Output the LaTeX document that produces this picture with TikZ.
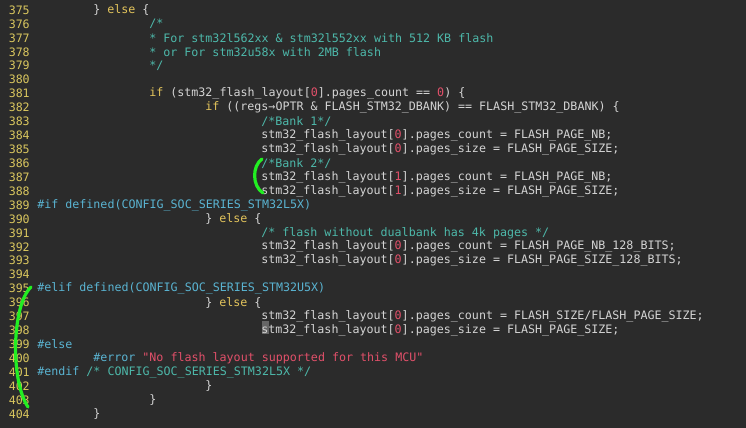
\documentclass[tikz,border=0pt]{standalone}
\usepackage{fontspec}
\setmonofont{DejaVu Sans Mono}[Scale=1]
\definecolor{bg}{HTML}{2B2B2B}
\definecolor{tx}{HTML}{D4D4D4}
\definecolor{kw}{HTML}{E3C45C}
\definecolor{cm}{HTML}{4DB8AA}
\definecolor{nu}{HTML}{E2506A}
\definecolor{pp}{HTML}{5AB4D2}
\definecolor{ln}{HTML}{D9C65E}
\definecolor{gr}{HTML}{22EE22}
\newcommand{\Kw}[1]{\textcolor{kw}{#1}}
\newcommand{\Cm}[1]{\textcolor{cm}{#1}}
\newcommand{\Nu}[1]{\textcolor{nu}{#1}}
\newcommand{\Pp}[1]{\textcolor{pp}{#1}}
\newcommand{\cl}[3]{%
  \node[num] (n#1) at (30,{10+(#1-375)*13.93}) {#1};
  \node[code] (c#1) at ({37+7.0*#2},{10+(#1-375)*13.93}) {#3};}
\begin{document}
\begin{tikzpicture}[x=0.75pt,y=-0.75pt,
  num/.style={anchor=east,inner sep=0,text=ln,font=\ttfamily\fontsize{8.7}{10}\selectfont},
  code/.style={anchor=west,inner sep=0,text=tx,font=\ttfamily\fontsize{8.75}{10}\selectfont}]
\useasboundingbox (0,0) rectangle (746,428);
\clip (0,0) rectangle (746,428);
\fill[bg] (0,0) rectangle (746,428);
\fill[gray!70!bg] (261.5,321) rectangle (268.6,334);
\cl{375}{8}{\} \Kw{else} \{}
\cl{376}{16}{\Cm{/*}}
\cl{377}{16}{\Cm{ * For stm32l562xx \& stm32l552xx with 512 KB flash}}
\cl{378}{16}{\Cm{ * or For stm32u58x with 2MB flash}}
\cl{379}{16}{\Cm{ */}}
\cl{380}{0}{}
\cl{381}{16}{\Kw{if} (stm32\_flash\_layout[\Nu{0}].pages\_count == \Nu{0}) \{}
\cl{382}{24}{\Kw{if} ((regs→OPTR \& FLASH\_STM32\_DBANK) == FLASH\_STM32\_DBANK) \{}
\cl{383}{32}{\Cm{/*Bank 1*/}}
\cl{384}{32}{stm32\_flash\_layout[\Nu{0}].pages\_count = FLASH\_PAGE\_NB;}
\cl{385}{32}{stm32\_flash\_layout[\Nu{0}].pages\_size = FLASH\_PAGE\_SIZE;}
\cl{386}{32}{\Cm{/*Bank 2*/}}
\cl{387}{32}{stm32\_flash\_layout[\Nu{1}].pages\_count = FLASH\_PAGE\_NB;}
\cl{388}{32}{stm32\_flash\_layout[\Nu{1}].pages\_size = FLASH\_PAGE\_SIZE;}
\cl{389}{0}{\Pp{\#if defined(CONFIG\_SOC\_SERIES\_STM32L5X)}}
\cl{390}{24}{\} \Kw{else} \{}
\cl{391}{32}{\Cm{/* flash without dualbank has 4k pages */}}
\cl{392}{32}{stm32\_flash\_layout[\Nu{0}].pages\_count = FLASH\_PAGE\_NB\_128\_BITS;}
\cl{393}{32}{stm32\_flash\_layout[\Nu{0}].pages\_size = FLASH\_PAGE\_SIZE\_128\_BITS;}
\cl{394}{0}{}
\cl{395}{0}{\Pp{\#elif defined(CONFIG\_SOC\_SERIES\_STM32U5X)}}
\cl{396}{24}{\} \Kw{else} \{}
\cl{397}{32}{stm32\_flash\_layout[\Nu{0}].pages\_count = FLASH\_SIZE/FLASH\_PAGE\_SIZE;}
\cl{398}{32}{stm32\_flash\_layout[\Nu{0}].pages\_size = FLASH\_PAGE\_SIZE;}
\cl{399}{0}{\Pp{\#else}}
\cl{400}{8}{\Pp{\#error} \Nu{"No flash layout supported for this MCU"}}
\cl{401}{0}{\Pp{\#endif} \Cm{/* CONFIG\_SOC\_SERIES\_STM32L5X */}}
\cl{402}{24}{\}}
\cl{403}{16}{\}}
\cl{404}{8}{\}}
\coordinate (a1) at (262,159);
\coordinate (a2) at (263,193);
\draw[gr,line width=2.4pt,line cap=round] (a1) .. controls (252,166) and (252,186) .. (a2);
\coordinate (b1) at (31,287);
\coordinate (b2) at (28,407);
\draw[gr,line width=2.4pt,line cap=round] (b1) .. controls (12,305) and (10,380) .. (b2);
\end{tikzpicture}
\end{document}
